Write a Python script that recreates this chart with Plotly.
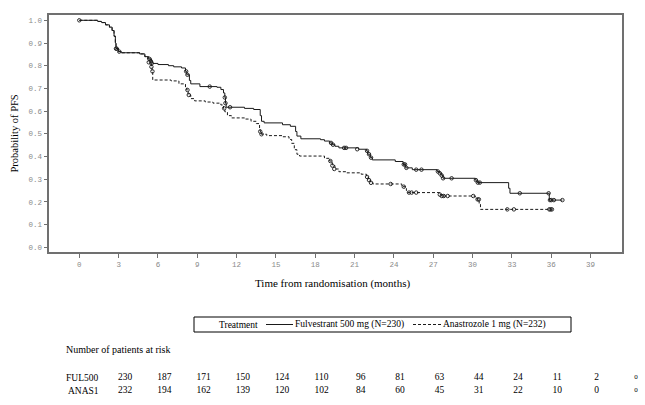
import plotly.graph_objects as go

# ---------------- data ----------------
ful_t = [0, 1.4, 1.7, 2.0, 2.3, 2.5, 2.65, 2.75, 2.8, 3.0, 3.2, 4.6, 5.0, 5.3, 5.5, 5.6, 6.0, 6.8, 7.2, 7.8,
         8.1, 8.2, 8.4, 8.5, 9.2, 10.5, 10.8, 11.0, 11.1, 11.15, 11.2, 12.6, 13.3, 13.8, 13.9, 14.1, 15.5,
         16.1, 16.5, 16.6, 16.9, 18.4, 18.7, 19.1, 19.3, 19.5, 19.8, 21.3, 21.9, 22.0, 22.2, 22.35, 24.1,
         24.7, 24.9, 25.4, 27.3, 27.5, 27.65, 27.75, 30.2, 30.35, 32.75, 32.85, 35.85, 36.85]
ful_s = [1.0, 0.995, 0.99, 0.98, 0.97, 0.955, 0.93, 0.90, 0.875, 0.862, 0.857, 0.852, 0.84, 0.83, 0.82,
         0.81, 0.805, 0.80, 0.795, 0.79, 0.775, 0.76, 0.735, 0.72, 0.708, 0.705, 0.695, 0.68, 0.66, 0.635,
         0.617, 0.612, 0.607, 0.58, 0.555, 0.548, 0.54, 0.533, 0.51, 0.49, 0.478, 0.474, 0.468, 0.46,
         0.452, 0.445, 0.438, 0.432, 0.425, 0.41, 0.395, 0.385, 0.378, 0.365, 0.35, 0.342, 0.334, 0.326,
         0.316, 0.304, 0.296, 0.285, 0.26, 0.238, 0.208, 0.208]
ful_cens_t = [0, 2.85, 3.05, 5.35, 5.45, 5.52, 8.15, 8.25, 9.95, 11.1, 11.15, 11.5, 19.2, 19.35, 20.2,
              20.35, 21.2, 21.95, 22.1, 22.25, 24.75, 24.85, 24.95, 25.7, 26.1, 27.35, 27.5, 27.65, 27.75,
              28.4, 30.25, 30.4, 30.55, 33.6, 35.8, 35.9, 36.0, 36.2, 36.85]
ful_cens_s = [1.0, 0.875, 0.862, 0.83, 0.82, 0.81, 0.775, 0.76, 0.708, 0.66, 0.635, 0.617, 0.46, 0.452,
              0.438, 0.438, 0.432, 0.425, 0.41, 0.395, 0.365, 0.365, 0.35, 0.342, 0.342, 0.334, 0.326,
              0.316, 0.304, 0.304, 0.296, 0.285, 0.285, 0.238, 0.238, 0.208, 0.208, 0.208, 0.208]

ana_t = [0, 1.4, 1.7, 2.0, 2.3, 2.5, 2.65, 2.75, 2.8, 3.0, 3.2, 4.6, 5.0, 5.2, 5.4, 5.5, 5.55, 5.6, 7.0,
         7.6, 8.1, 8.2, 8.3, 8.5, 8.8, 9.6, 10.2, 10.8, 11.0, 11.1, 11.3, 11.6, 12.6, 13.1, 13.5, 13.75,
         13.8, 13.9, 14.3, 15.5, 16.0, 16.2, 16.4, 16.6, 16.8, 18.7, 19.1, 19.3, 19.5, 19.8, 20.4, 21.5,
         21.9, 22.05, 22.2, 22.4, 24.6, 24.95, 25.05, 27.5, 27.65, 30.2, 30.35, 30.5, 30.6, 36.05]
ana_s = [1.0, 0.995, 0.99, 0.98, 0.97, 0.955, 0.93, 0.90, 0.875, 0.862, 0.857, 0.852, 0.84, 0.83, 0.815,
         0.795, 0.775, 0.737, 0.733, 0.72, 0.705, 0.693, 0.671, 0.655, 0.645, 0.64, 0.635, 0.627, 0.612,
         0.597, 0.58, 0.57, 0.565, 0.555, 0.545, 0.525, 0.51, 0.498, 0.492, 0.487, 0.475, 0.458, 0.43,
         0.41, 0.402, 0.392, 0.38, 0.36, 0.345, 0.333, 0.328, 0.322, 0.31, 0.296, 0.284, 0.279, 0.267,
         0.25, 0.241, 0.232, 0.226, 0.217, 0.211, 0.19, 0.167, 0.167]
ana_cens_t = [2.8, 5.3, 5.5, 5.58, 8.25, 8.35, 11.05, 13.8, 13.9, 19.15, 19.3, 19.45, 21.95, 22.1, 22.25,
              23.75, 24.75, 25.15, 25.35, 25.7, 27.5, 27.65, 27.8, 28.1, 30.05, 30.38, 30.48, 32.65,
              33.15, 35.85, 35.95, 36.05]
ana_cens_s = [0.875, 0.815, 0.795, 0.775, 0.693, 0.671, 0.612, 0.51, 0.498, 0.38, 0.36, 0.345, 0.31,
              0.296, 0.284, 0.279, 0.267, 0.241, 0.241, 0.241, 0.232, 0.226, 0.226, 0.226, 0.226, 0.211,
              0.211, 0.167, 0.167, 0.167, 0.167, 0.167]

risk_times = [0, 3, 6, 9, 12, 15, 18, 21, 24, 27, 30, 33, 36, 39]
risk_ful = [230, 187, 171, 150, 124, 110, 96, 81, 63, 44, 24, 11, 2, 0]
risk_ana = [232, 194, 162, 139, 120, 102, 84, 60, 45, 31, 22, 10, 0, 0]
row_labels = ["FUL500", "ANAS1"]
legend_labels = ["Fulvestrant 500 mg (N=230)", "Anastrozole 1 mg (N=232)"]
x_ticks = list(range(0, 40, 3))
y_ticks = [i / 10 for i in range(11)]

# ---------------- layout helpers ----------------
W, H = 645, 405
def pxx(p):
    return p / W
def pxy(p):
    return 1 - p / H

SERIF = "Liberation Serif, Times New Roman, serif"
MONO = "Liberation Mono, Courier New, monospace"
INK = "#1a1a1a"

fig = go.Figure()

fig.add_trace(go.Scatter(x=ful_t, y=ful_s, mode="lines", line=dict(color=INK, width=1, shape="hv"),
                         hoverinfo="skip", showlegend=False))
fig.add_trace(go.Scatter(x=ana_t, y=ana_s, mode="lines",
                         line=dict(color=INK, width=1, shape="hv", dash="3px,2px"),
                         hoverinfo="skip", showlegend=False))
fig.add_trace(go.Scatter(x=ful_cens_t, y=ful_cens_s, mode="markers",
                         marker=dict(symbol="circle-open", size=3.5, color=INK, line=dict(width=0.9)),
                         hoverinfo="skip", showlegend=False))
fig.add_trace(go.Scatter(x=ana_cens_t, y=ana_cens_s, mode="markers",
                         marker=dict(symbol="circle-open", size=3.5, color=INK, line=dict(width=0.9)),
                         hoverinfo="skip", showlegend=False))

# risk table on its own invisible axes (rows 0 and 1)
TAB_TOP, TAB_BOT = 365.0, 405.0
ROW0, ROWSTEP = 377.5, 13.0
sizes = [9.5] * (len(risk_times) - 1) + [7]
fig.add_trace(go.Scatter(x=risk_times, y=[0] * len(risk_times), mode="text",
                         text=[str(v) for v in risk_ful], textposition="middle center",
                         textfont=dict(family=SERIF, size=sizes, color="black"), cliponaxis=False,
                         xaxis="x2", yaxis="y2", hoverinfo="skip", showlegend=False))
fig.add_trace(go.Scatter(x=risk_times, y=[1] * len(risk_times), mode="text",
                         text=[str(v) for v in risk_ana], textposition="middle center",
                         textfont=dict(family=SERIF, size=sizes, color="black"), cliponaxis=False,
                         xaxis="x2", yaxis="y2", hoverinfo="skip", showlegend=False))

# main axes geometry (pixels)
L, R, T, B = 49.3, 621.7, 14.7, 252.3
x0px, xscale = 79.3, 13.11   # px position of t=0, px per month
y0px, yscale = 247.3, 227.0  # px position of p=0, px per unit

axis_common = dict(showgrid=False, zeroline=False, showline=True, mirror=True, linecolor="#707070",
                   linewidth=1.5, ticks="outside", ticklen=4, tickwidth=1, tickcolor="#707070",
                   tickfont=dict(family=MONO, size=7.5, color="#8a8a8a"))

fig.update_layout(
    width=W, height=H, margin=dict(l=0, r=0, t=0, b=0),
    paper_bgcolor="white", plot_bgcolor="rgba(0,0,0,0)",
    xaxis=dict(domain=[pxx(L), pxx(R)], range=[(L - x0px) / xscale, (R - x0px) / xscale],
               tickvals=x_ticks, ticktext=[str(v) for v in x_ticks], anchor="y", **axis_common),
    yaxis=dict(domain=[pxy(B), pxy(T)], range=[(y0px - B) / yscale, (y0px - T) / yscale],
               tickvals=y_ticks, ticktext=[f"{v:.1f}" for v in y_ticks], anchor="x", **axis_common),
    xaxis2=dict(domain=[0, 1], range=[(0 - 125) / 13.1, (W - 125) / 13.1], visible=False, anchor="y2"),
    yaxis2=dict(domain=[pxy(TAB_BOT), pxy(TAB_TOP)],
                range=[(TAB_BOT - ROW0) / ROWSTEP, (TAB_TOP - ROW0) / ROWSTEP], visible=False, anchor="x2"),
    showlegend=False,
)

def note(text, x, y, size=9.5, xanchor="left", **kw):
    return dict(text=text, x=pxx(x), y=pxy(y), xref="paper", yref="paper", xanchor=xanchor,
                yanchor="middle", showarrow=False, font=dict(family=SERIF, size=size, color="black"), **kw)

ann = [
    note("Probability of PFS", 14, (T + B) / 2, size=10.5, xanchor="center", textangle=-90),
    note("Time from randomisation (months)", 332, 283, size=11, xanchor="center"),
    note("Number of patients at risk", 64, 349, size=10),
    note(row_labels[0], 64, 377.5),
    note(row_labels[1], 66, 390.5),
    note("Treatment", 217, 324.5),
    note(legend_labels[0], 293, 324.5),
    note(legend_labels[1], 441, 324.5),
]
fig.update_layout(annotations=ann)

shapes = [
    dict(type="rect", xref="paper", yref="paper", x0=pxx(194), x1=pxx(571), y0=pxy(332), y1=pxy(317),
         line=dict(color="black", width=1)),
    dict(type="line", xref="paper", yref="paper", x0=pxx(266), x1=pxx(293), y0=pxy(324.5), y1=pxy(324.5),
         line=dict(color=INK, width=1)),
    dict(type="line", xref="paper", yref="paper", x0=pxx(413), x1=pxx(441), y0=pxy(324.5), y1=pxy(324.5),
         line=dict(color=INK, width=1, dash="3px,2px")),
]
fig.update_layout(shapes=shapes)

fig.write_html("out.html", config={"displayModeBar": False},
               post_script="document.body.style.margin='0px';")
